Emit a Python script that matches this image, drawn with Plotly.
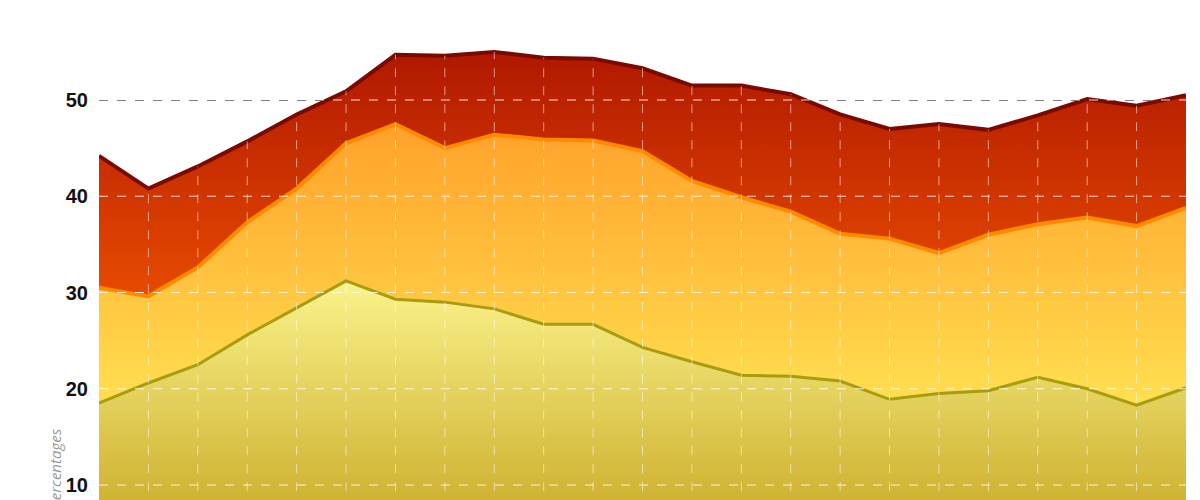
import plotly.graph_objects as go

x = list(range(23))
low = [18.5, 20.6, 22.5, 25.6, 28.4, 31.2, 29.3, 29.0, 28.3, 26.7, 26.7, 24.3,
       22.8, 21.4, 21.3, 20.8, 18.9, 19.5, 19.8, 21.2, 20.0, 18.3, 20.1]
mid = [30.5, 29.6, 32.6, 37.3, 40.8, 45.5, 47.5, 45.0, 46.4, 45.9, 45.8, 44.7,
       41.6, 39.9, 38.4, 36.1, 35.6, 34.1, 36.0, 37.1, 37.8, 36.9, 38.8]
high = [44.2, 40.8, 43.1, 45.7, 48.5, 50.9, 54.7, 54.6, 55.0, 54.4, 54.3, 53.3,
        51.5, 51.5, 50.6, 48.5, 47.0, 47.5, 46.9, 48.4, 50.1, 49.4, 50.5]
yticks = [10, 20, 30, 40, 50, 60]

fig = go.Figure()
fig.add_trace(go.Scatter(x=x, y=low, mode='lines', line=dict(color='#a89c10', width=3),
                         fill='tozeroy',
                         fillgradient=dict(type='vertical', start=5, stop=31,
                                           colorscale=[[0, '#c9a925'], [1, '#faf28a']])))
fig.add_trace(go.Scatter(x=x, y=mid, mode='lines', line=dict(color='#ff8a00', width=4),
                         fill='tonexty',
                         fillgradient=dict(type='vertical', start=18, stop=48,
                                           colorscale=[[0, '#ffe050'], [1, '#ffa02a']])))
fig.add_trace(go.Scatter(x=x, y=high, mode='lines', line=dict(color='#7a0a00', width=4),
                         fill='tonexty',
                         fillgradient=dict(type='vertical', start=30, stop=55,
                                           colorscale=[[0, '#e64a00'], [1, '#b01800']])))

# white dashed grid drawn over the fills
for v in yticks:
    fig.add_shape(type='line', xref='x', yref='y', x0=0, x1=22, y0=v, y1=v, layer='above',
                  line=dict(color='rgba(255,255,255,0.85)', width=1, dash='dash'))
for xi, h in zip(x[1:-1], high[1:-1]):
    fig.add_shape(type='line', xref='x', yref='y', x0=xi, x1=xi, y0=0, y1=h, layer='above',
                  line=dict(color='rgba(255,255,255,0.55)', width=1, dash='dash'))

fig.add_annotation(text='Share in percentages', textangle=-90, xref='paper', yref='y',
                   x=-0.052, y=16.1, yanchor='top', showarrow=False,
                   font=dict(family='Open Sans', size=15, color='#999999', style='italic'))

fig.update_layout(
    width=1200, height=500, margin=dict(l=91, r=22, t=0, b=0, autoexpand=False),
    plot_bgcolor='white', paper_bgcolor='white', showlegend=False,
    xaxis=dict(range=[0, 22], visible=False),
    yaxis=dict(range=[7.61, 59.56], tickvals=yticks, showgrid=True, gridcolor='#222222',
               griddash='dash', gridwidth=1, zeroline=False, ticks='', ticklabelstandoff=10,
               automargin=False,
               tickfont=dict(family='Liberation Sans', size=20, color='#111111', weight='bold')),
)
fig.write_html("out.html")
